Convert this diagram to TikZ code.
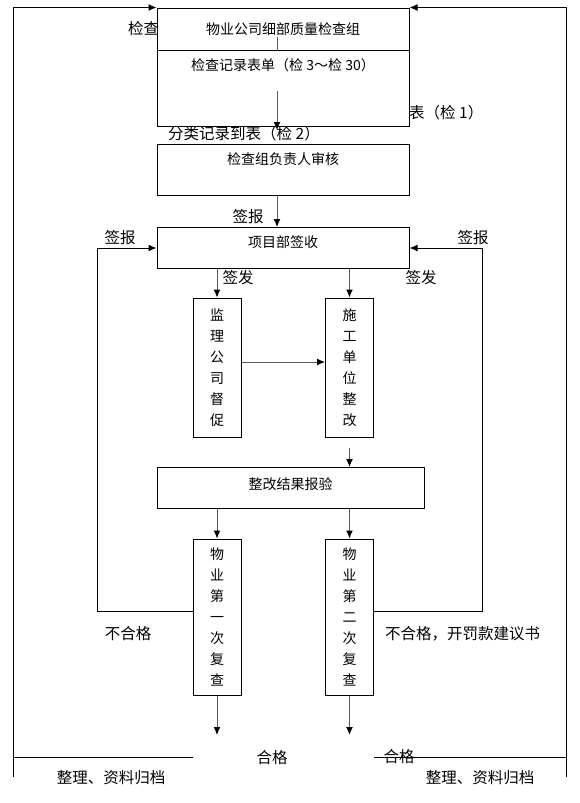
\documentclass[tikz,border=0pt]{standalone}
\usepackage{fontspec}
\setmainfont{Noto Sans CJK SC}
\usetikzlibrary{arrows.meta}
\tikzset{bx/.style = {rectangle, draw, fill=white, line width=1pt, inner sep=0pt, minimum width=252pt},
         hb/.style = {bx, anchor=north, text height=20pt, text depth=#1},
         vb/.style = {rectangle, draw, fill=white, line width=1pt, inner sep=0pt, minimum width=48pt, align=center},
         lb/.style = {inner sep=0pt, font=\fontsize{15.5pt}{18pt}\selectfont},
         ln/.style = {line width=1pt},
         ar/.style = {line width=1pt, draw=black!65, -{Latex[length=8pt,width=7pt,color=black]}}}

\begin{document}
\begin{tikzpicture}[x=1pt, y=-1pt, >={Latex[length=8pt,width=7pt]}, font=\fontsize{14pt}{21pt}\selectfont]
    \useasboundingbox (0,0) rectangle (579,803);
    \node[lb, anchor=west] (jc) at (128,29) {检查};
    \node[lb, anchor=west] (jb1) at (409,113) {表（检 1）};
    \node[bx, minimum height=42pt] (zjz) at (283,29) {物业公司细部质量检查组};
    \node[hb=56pt] (jlb) at (283,50) {检查记录表单（检 3～检 30）};
    \coordinate (zo) at (277,37); \coordinate (jo) at (277,91); \coordinate (ft) at (277,130);
    \draw[ln, draw=black!65] (zo) -- (zo |- zjz.south);
    \draw[ar] (jo) -- (ft);
    \node[lb, anchor=west] (fl) at (168,134) {分类记录到表（检 2）};
    \node[hb=31pt] (shz) at (283,144) {检查组负责人审核};
    \node[hb=21pt] (xmsq) at (283,227) {项目部签收};
    \draw[ar] (shz.south -| ft) -- (xmsq.north -| ft);
    \node[lb] (qb) at (248,217) {签报};
    \node[vb, minimum height=139pt] (jl) at (217,367.5) {监\\理\\公\\司\\督\\促};
    \node[vb, minimum height=139pt] (sg) at (349.5,367.5) {施\\工\\单\\位\\整\\改};
    \draw[ar] (xmsq.south -| jl) -- (jl.north);
    \draw[ar] (xmsq.south -| sg) -- (sg.north);
    \node[lb] (qf1) at (238,278) {签发};
    \node[lb] (qf2) at (421,278) {签发};
    \draw[ar] ([yshift=5.5pt]jl.east) -- ([yshift=5.5pt]sg.west);
    \node[hb=19pt, text height=22pt, minimum width=267pt] (zgjg) at (290.5,467) {整改结果报验};
    \draw[ar] ([yshift=-10pt]sg.south) -- (sg.south |- zgjg.north);
    \node[vb, minimum height=156pt] (dc1) at (217,617) {物\\业\\第\\一\\次\\复\\查};
    \node[vb, minimum height=156pt] (dc2) at (349.5,617) {物\\业\\第\\二\\次\\复\\查};
    \draw[ar] (zgjg.south -| dc1) -- (dc1.north);
    \draw[ar] (zgjg.south -| dc2) -- (dc2.north);
    % back to the project office
    \coordinate (ll) at (97,611); \coordinate (rl) at (482,611);
    \draw[ln, ->] (ll -| dc1.west) -- (ll) |- (xmsq.west);
    \draw[ln, ->] (rl -| dc2.east) -- (rl) |- (xmsq.east);
    \node[lb] (qb1) at (120,238) {签报};
    \node[lb] (qb2) at (473,238) {签报};
    \node[lb] (bhg1) at (128,634) {不合格};
    \node[lb, anchor=west] (bhg2) at (385,634) {不合格，开罚款建议书};
    % passed: archive and back to the top
    \coordinate (c1) at (217,735); \coordinate (c2) at (349.5,735);
    \draw[ar] (dc1.south) -- (c1);
    \draw[ar] (dc2.south) -- (c2);
    \node[lb] (hg1) at (272,758) {合格};
    \node[lb] (hg2) at (399,757) {合格};
    \coordinate (lo) at (13,777); \coordinate (ro) at (566,777);
    \coordinate (lh) at (193,757); \coordinate (rh) at (374,757);
    \draw[ln] (lh) -- (lh -| lo);
    \draw[ln] (rh) -- (rh -| ro);
    \draw[ln, ->] (lo) |- (zjz.north west);
    \draw[ln, ->] (ro) |- (zjz.north east);
    \node[lb] (zl1) at (111,778) {整理、资料归档};
    \node[lb] (zl2) at (480,778) {整理、资料归档};
\end{tikzpicture}
\end{document}
